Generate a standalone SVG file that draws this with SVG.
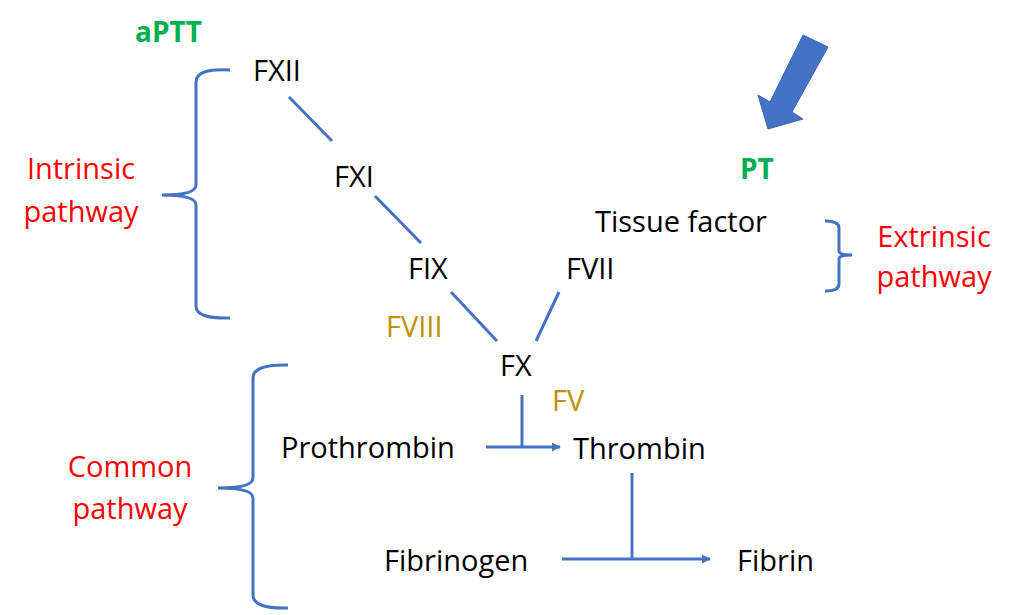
<svg xmlns="http://www.w3.org/2000/svg" width="1024" height="615" viewBox="0 0 1024 615">
<defs>
<style>
text{font-family:"Open Sans","Liberation Sans",sans-serif;font-size:29px}
.k{fill:#000}
.r{fill:#FF0000}
.g{fill:#00B050;font-weight:bold;font-size:28px}
.y{fill:#BF9000}
.ln{stroke:#4472C4;stroke-width:3;fill:none}
</style>
<marker id="ah" viewBox="0 0 10 10" refX="9" refY="5" markerWidth="9" markerHeight="9" markerUnits="userSpaceOnUse" orient="auto">
<path d="M0,0 L10,5 L0,10 z" fill="#4472C4"/>
</marker>
</defs>
<rect width="1024" height="615" fill="#fff"/>
<g id="connectors">
<line class="ln" x1="289" y1="97" x2="332" y2="141"/>
<line class="ln" x1="375" y1="196" x2="421" y2="243"/>
<line class="ln" x1="451" y1="292" x2="497" y2="341"/>
<line class="ln" x1="559" y1="292" x2="536" y2="341"/>
<line class="ln" x1="522" y1="395" x2="522" y2="447"/>
<line class="ln" x1="486" y1="447" x2="560" y2="447" marker-end="url(#ah)"/>
<line class="ln" x1="632" y1="473" x2="632" y2="559"/>
<line class="ln" x1="562" y1="559" x2="710" y2="559" marker-end="url(#ah)"/>
</g>
<g id="braces">
<path class="ln" d="M230,70 Q196,68 196,82 L196,185 Q196,195 162,195 Q196,195 196,205 L196,306 Q196,319 230,318"/>
<path class="ln" d="M288,365 Q253,364 253,378 L253,478 Q253,488 218,488 Q253,488 253,498 L253,595 Q253,609 288,608"/>
<path class="ln" d="M825,221 Q839,221 839,228 L839,251 Q839,255 852,255 Q839,255 839,259 L839,284 Q839,291 825,291"/>
</g>
<g id="big-arrow">
<polygon points="803,35 828,47 792,112 803,119 768,129 758,95 770,102" fill="#4472C4" stroke="#3a63ad" stroke-width="1"/>
</g>
<g id="aPTT"><text class="g" x="135" y="42">aPTT</text></g>
<g id="PT"><text class="g" x="740" y="179">PT</text></g>
<g id="FXII"><text class="k" x="253" y="81">FXII</text></g>
<g id="FXI"><text class="k" x="334" y="187">FXI</text></g>
<g id="FIX"><text class="k" x="408" y="279">FIX</text></g>
<g id="FVII"><text class="k" x="566" y="279">FVII</text></g>
<g id="FVIII"><text class="y" x="386" y="337">FVIII</text></g>
<g id="FX"><text class="k" x="500" y="376">FX</text></g>
<g id="FV"><text class="y" x="552" y="411">FV</text></g>
<g id="TissueFactor"><text class="k" x="595" y="232">Tissue factor</text></g>
<g id="Prothrombin"><text class="k" x="281" y="458">Prothrombin</text></g>
<g id="Thrombin"><text class="k" x="573" y="459">Thrombin</text></g>
<g id="Fibrinogen"><text class="k" x="384" y="571">Fibrinogen</text></g>
<g id="Fibrin"><text class="k" x="737" y="571">Fibrin</text></g>
<g id="Intrinsic"><text class="r" text-anchor="middle" x="81" y="179">Intrinsic</text><text class="r" text-anchor="middle" x="81" y="222">pathway</text></g>
<g id="Extrinsic"><text class="r" text-anchor="middle" x="934" y="247">Extrinsic</text><text class="r" text-anchor="middle" x="934" y="287">pathway</text></g>
<g id="Common"><text class="r" text-anchor="middle" x="130" y="477">Common</text><text class="r" text-anchor="middle" x="130" y="519">pathway</text></g>
</svg>
